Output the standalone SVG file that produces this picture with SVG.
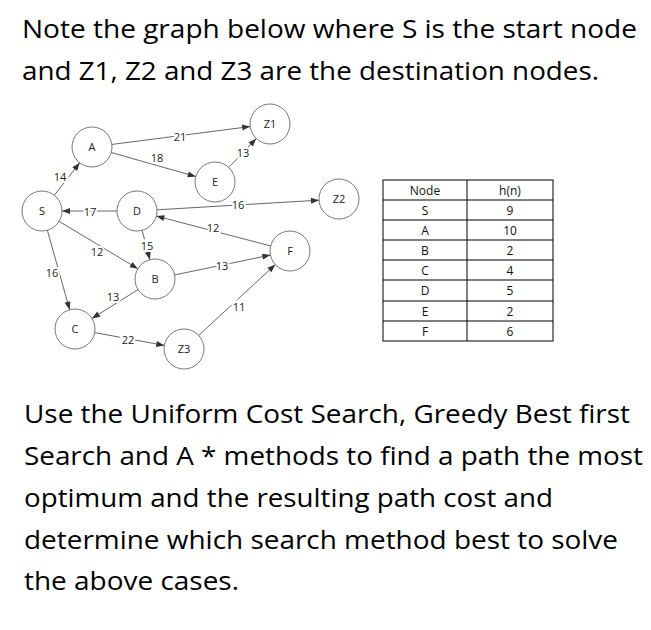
<svg xmlns="http://www.w3.org/2000/svg" width="651" height="630" viewBox="0 0 651 630">
<style>
.t{font-family:"Open Sans","Liberation Sans",sans-serif;font-size:25px;fill:#000}
.n{font-family:"Open Sans","Liberation Sans",sans-serif;font-size:11px;fill:#222;text-anchor:middle}
.l{font-family:"Open Sans","Liberation Sans",sans-serif;font-size:11px;fill:#222;text-anchor:middle;stroke:#fff;stroke-width:4;paint-order:stroke}
.c{fill:#fff;stroke:#777;stroke-width:1}
.e{stroke:#666;stroke-width:1;fill:none}
.a{marker-end:url(#ar)}
.tb{font-family:"Open Sans","Liberation Sans",sans-serif;font-size:12px;fill:#111;text-anchor:middle}
</style>
<defs>
<marker id="ar" viewBox="0 0 8 6" markerWidth="8" markerHeight="6" refX="28" refY="3" orient="auto" markerUnits="userSpaceOnUse" overflow="visible"><path d="M0,0 L8,3 L0,6 z" fill="#333"/></marker>
</defs>
<rect width="651" height="630" fill="#fff"/>
<text class="t" x="22" y="38" textLength="615" lengthAdjust="spacingAndGlyphs">Note the graph below where S is the start node</text>
<text class="t" x="22" y="80" textLength="577" lengthAdjust="spacingAndGlyphs">and Z1, Z2 and Z3 are the destination nodes.</text>
<g id="connectors">
<line class="e a" x1="42" y1="211" x2="92" y2="147"/>
<line class="e a" x1="92" y1="147" x2="270" y2="124"/>
<line class="e a" x1="92" y1="147" x2="215" y2="182"/>
<line class="e a" x1="215" y1="182" x2="270" y2="124"/>
<line class="e a" x1="137" y1="211" x2="42" y2="211"/>
<line class="e a" x1="137" y1="211" x2="339" y2="199"/>
<line class="e a" x1="290" y1="251" x2="137" y2="211"/>
<line class="e a" x1="137" y1="211" x2="155" y2="279"/>
<line class="e a" x1="42" y1="211" x2="155" y2="279"/>
<line class="e a" x1="42" y1="211" x2="75" y2="329"/>
<line class="e a" x1="155" y1="279" x2="75" y2="329"/>
<line class="e a" x1="155" y1="279" x2="290" y2="251"/>
<line class="e a" x1="75" y1="329" x2="184" y2="349"/>
<line class="e a" x1="184" y1="349" x2="290" y2="251"/>
<text class="l" x="60" y="181">14</text>
<text class="l" x="180" y="141">21</text>
<text class="l" x="157" y="162">18</text>
<text class="l" x="243" y="157">13</text>
<text class="l" x="90" y="216">17</text>
<text class="l" x="238" y="209">16</text>
<text class="l" x="213" y="232">12</text>
<text class="l" x="147" y="250">15</text>
<text class="l" x="97" y="256">12</text>
<text class="l" x="52" y="277">16</text>
<text class="l" x="222" y="270">13</text>
<text class="l" x="113" y="301">13</text>
<text class="l" x="239" y="311">11</text>
<text class="l" x="128" y="344">22</text>
</g>
<g id="S"><circle class="c" cx="42" cy="211" r="20"/><text class="n" x="42" y="215">S</text></g>
<g id="A"><circle class="c" cx="92" cy="147" r="20"/><text class="n" x="92" y="151">A</text></g>
<g id="Z1"><circle class="c" cx="270" cy="124" r="20"/><text class="n" x="270" y="128">Z1</text></g>
<g id="E"><circle class="c" cx="215" cy="182" r="20"/><text class="n" x="215" y="186">E</text></g>
<g id="D"><circle class="c" cx="137" cy="211" r="20"/><text class="n" x="137" y="215">D</text></g>
<g id="Z2"><circle class="c" cx="339" cy="199" r="20"/><text class="n" x="339" y="203">Z2</text></g>
<g id="F"><circle class="c" cx="290" cy="251" r="20"/><text class="n" x="290" y="255">F</text></g>
<g id="B"><circle class="c" cx="155" cy="279" r="20"/><text class="n" x="155" y="283">B</text></g>
<g id="C"><circle class="c" cx="75" cy="329" r="20"/><text class="n" x="75" y="333">C</text></g>
<g id="Z3"><circle class="c" cx="184" cy="349" r="20"/><text class="n" x="184" y="353">Z3</text></g>
<g id="table" fill="none" stroke="#000" stroke-width="1">
<rect x="383" y="180" width="170" height="161"/>
<line x1="467" y1="180" x2="467" y2="341"/>
<line x1="383" y1="200" x2="553" y2="200"/>
<line x1="383" y1="220" x2="553" y2="220"/>
<line x1="383" y1="240" x2="553" y2="240"/>
<line x1="383" y1="260" x2="553" y2="260"/>
<line x1="383" y1="280" x2="553" y2="280"/>
<line x1="383" y1="301" x2="553" y2="301"/>
<line x1="383" y1="321" x2="553" y2="321"/>
</g>
<g id="table-text">
<text class="tb" x="425" y="195">Node</text><text class="tb" x="510" y="195">h(n)</text>
<text class="tb" x="425" y="215">S</text><text class="tb" x="510" y="215">9</text>
<text class="tb" x="425" y="235">A</text><text class="tb" x="510" y="235">10</text>
<text class="tb" x="425" y="255">B</text><text class="tb" x="510" y="255">2</text>
<text class="tb" x="425" y="275">C</text><text class="tb" x="510" y="275">4</text>
<text class="tb" x="425" y="295">D</text><text class="tb" x="510" y="295">5</text>
<text class="tb" x="425" y="316">E</text><text class="tb" x="510" y="316">2</text>
<text class="tb" x="425" y="336">F</text><text class="tb" x="510" y="336">6</text>
</g>
<text class="t" x="24" y="423" textLength="606" lengthAdjust="spacingAndGlyphs">Use the Uniform Cost Search, Greedy Best first</text>
<text class="t" x="24" y="465" textLength="619" lengthAdjust="spacingAndGlyphs">Search and A * methods to find a path the most</text>
<text class="t" x="24" y="507" textLength="529" lengthAdjust="spacingAndGlyphs">optimum and the resulting path cost and</text>
<text class="t" x="24" y="549" textLength="594" lengthAdjust="spacingAndGlyphs">determine which search method best to solve</text>
<text class="t" x="24" y="590" textLength="215" lengthAdjust="spacingAndGlyphs">the above cases.</text>
</svg>
